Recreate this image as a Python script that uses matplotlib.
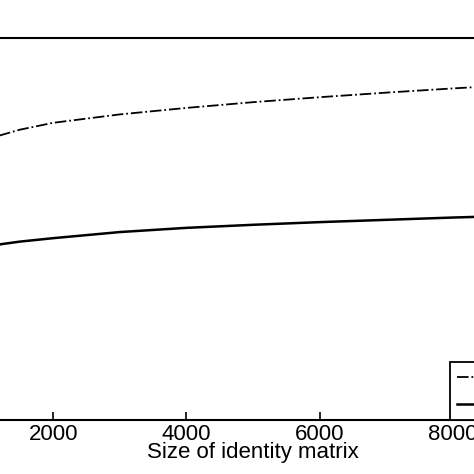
import matplotlib
matplotlib.use("Agg")
import matplotlib.pyplot as plt

x = [0, 300, 600, 1000, 1500, 2000, 3000, 4000, 5000, 6000, 7000, 8000, 9000, 10000]
dashdot = [0.66, 0.69, 0.712, 0.735, 0.760, 0.778, 0.800, 0.817, 0.832, 0.845, 0.857, 0.868, 0.878, 0.887]
solid = [0.42, 0.435, 0.445, 0.455, 0.467, 0.476, 0.492, 0.503, 0.511, 0.518, 0.524, 0.530, 0.535, 0.539]
xticks = [0, 2000, 4000, 6000, 8000, 10000]

fig = plt.figure(figsize=(4.74, 4.74), dpi=100)
W = 474
ax = fig.add_axes([-80 / W, (474 - 420) / W, 666 / W, (420 - 38) / W])
ax.plot(x, dashdot, color='black', linestyle='-.', lw=1.3, label='Series 1')
ax.plot(x, solid, color='black', linestyle='-', lw=1.8, label='Series 2')
ax.set_xlim(0, 10000)
ax.set_ylim(0, 1)
ax.set_xticks(xticks)
ax.set_yticks([])
ax.tick_params(direction='in', length=6, labelsize=16, width=1.2, pad=3)
for s in ax.spines.values():
    s.set_linewidth(1.5)
ax.set_xlabel('Size of identity matrix', fontsize=16, labelpad=-2,
              family='Liberation Sans')
for t in ax.get_xticklabels():
    t.set_family('Liberation Sans')
leg = ax.legend(loc='lower left', bbox_to_anchor=(0.796, 0.0), fontsize=12,
                fancybox=False, edgecolor='black', framealpha=1,
                borderaxespad=0, handlelength=2.5)
leg.get_frame().set_linewidth(1.3)
fig.savefig('out.png', dpi=100)
